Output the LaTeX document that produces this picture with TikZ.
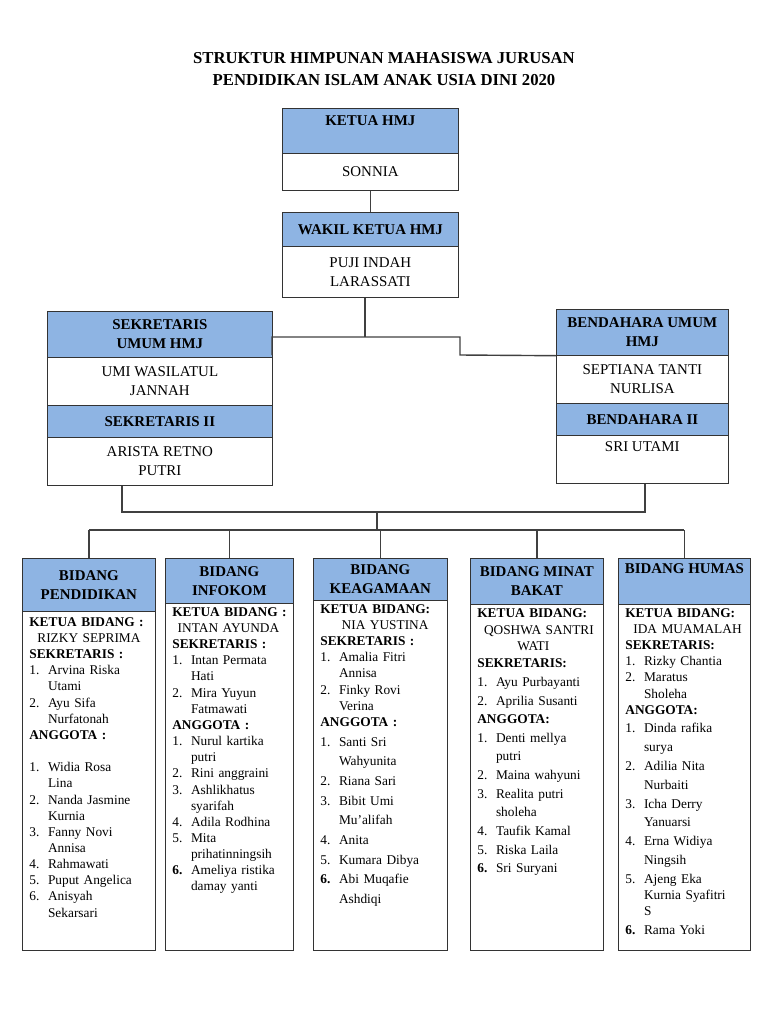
\documentclass[tikz,border=0pt]{standalone}
\usepackage{fontspec}
\setmainfont{Liberation Serif}
\usepackage{tikz}
\usetikzlibrary{positioning}
\definecolor{headblue}{HTML}{8EB4E3}
\newcommand{\itm}[2]{\makebox[1.4em][l]{#1}#2}
\newcommand{\ind}[1]{\hspace*{1.4em}#1}

\begin{document}
\begin{tikzpicture}[
        x=0.02cm, y=-0.02cm,
        head_style/.style={draw=black!80, fill=headblue, font=\fontsize{8.5}{11}\selectfont\bfseries, align=center, inner sep=2pt, anchor=north west},
        body_style/.style={draw=black!80, fill=white, font=\fontsize{8.5}{11}\selectfont, align=center, inner sep=2pt, anchor=north west},
        list_style/.style={font=\fontsize{7.6}{#1}\selectfont, align=left, anchor=north west, inner sep=0pt, text width=2.5cm},
        link_style/.style={draw=black!75, thick}
    ]
        \useasboundingbox (0,0) rectangle (768,1024);
        % Title
        \node[font=\fontsize{9.5}{12.5}\selectfont\bfseries, align=center] (title) at (384,69)
            {STRUKTUR HIMPUNAN MAHASISWA JURUSAN\\PENDIDIKAN ISLAM ANAK USIA DINI 2020};

        % Ketua and wakil
        \node[head_style, minimum width=176*0.02cm, minimum height=45*0.02cm] (ketua) at (282,108) {\raisebox{-4pt}{KETUA HMJ}\\\strut};
        \node[body_style, minimum width=176*0.02cm, minimum height=37*0.02cm] (sonnia) at (282,153) {SONNIA};
        \node[head_style, minimum width=176*0.02cm, minimum height=34*0.02cm] (wakil) at (282,212) {WAKIL KETUA HMJ};
        \node[body_style, minimum width=176*0.02cm, minimum height=51*0.02cm] (puji) at (282,246) {PUJI INDAH\\LARASSATI};

        % Sekretaris
        \node[head_style, minimum width=225*0.02cm, minimum height=46*0.02cm] (sekum) at (47,311) {SEKRETARIS\\UMUM HMJ};
        \node[body_style, minimum width=225*0.02cm, minimum height=48*0.02cm] (umi) at (47,357) {UMI WASILATUL\\JANNAH};
        \node[head_style, minimum width=225*0.02cm, minimum height=32*0.02cm] (sekdua) at (47,405) {SEKRETARIS II};
        \node[body_style, minimum width=225*0.02cm, minimum height=48*0.02cm] (arista) at (47,437) {ARISTA RETNO\\PUTRI};

        % Bendahara
        \node[head_style, minimum width=172*0.02cm, minimum height=46*0.02cm] (bendum) at (556,309) {BENDAHARA UMUM\\HMJ};
        \node[body_style, minimum width=172*0.02cm, minimum height=48*0.02cm] (septi) at (556,355) {SEPTIANA TANTI\\NURLISA};
        \node[head_style, minimum width=172*0.02cm, minimum height=32*0.02cm] (benddua) at (556,403) {BENDAHARA II};
        \node[body_style, minimum width=172*0.02cm, minimum height=48*0.02cm] (sri) at (556,435) {SRI UTAMI\\\strut};

        % Connectors top
        \draw[link_style] (sonnia.south) -- (wakil.north);
        \coordinate (jl) at (272,337);
        \coordinate (jr) at (460,337);
        \coordinate (jm) at (365,337);
        \draw[link_style] (puji.south -| jm) -- (jm);
        \draw[link_style] (272,355) -- (jl) -- (jr) -- (460,355) -- (bendum.south west);
        % Connectors middle
        \coordinate (ml) at (122,512);
        \coordinate (mr) at (645,512);
        \draw[link_style] (arista.south -| ml) -- (ml) -- (mr) -- (sri.south -| mr);
        \draw[link_style] (377,512) -- (377,530);

        % Bidang boxes
        \foreach \name/\x/\w/\hb/\txt in {
            pend/22/133/53/{BIDANG\\PENDIDIKAN},
            info/165/128/45/{BIDANG\\INFOKOM},
            agama/313/134/42/{BIDANG\\KEAGAMAAN},
            minat/470/133/46/{BIDANG MINAT\\BAKAT},
            humas/618/132/46/{BIDANG HUMAS\\\strut}} {
            \node[body_style, minimum width=\w*0.02cm, minimum height=392*0.02cm] (\name body) at (\x,558) {};
            \node[head_style, minimum width=\w*0.02cm, minimum height=\hb*0.02cm] (\name) at (\x,558) {\txt};
            \draw[link_style] (\name.north) -- ++(0,-28);
        }
        \draw[link_style] (pend.north) ++(0,-28) -- (684,530);

        % Lists
        \node[list_style=9.2pt] at (29,617) {\textbf{KETUA BIDANG :}\\
            \hspace*{0.6em}RIZKY SEPRIMA\\
            \textbf{SEKRETARIS :}\\
            \itm{1.}{Arvina Riska}\\\ind{Utami}\\
            \itm{2.}{Ayu Sifa}\\\ind{Nurfatonah}\\
            \textbf{ANGGOTA :}\\[9.2pt]
            \itm{1.}{Widia Rosa}\\\ind{Lina}\\
            \itm{2.}{Nanda Jasmine}\\\ind{Kurnia}\\
            \itm{3.}{Fanny Novi}\\\ind{Annisa}\\
            \itm{4.}{Rahmawati}\\
            \itm{5.}{Puput Angelica}\\
            \itm{6.}{Anisyah}\\\ind{Sekarsari}};
        \node[list_style=9.2pt] at (172,607) {\textbf{KETUA BIDANG :}\\
            \hspace*{0.4em}INTAN AYUNDA\\
            \textbf{SEKRETARIS :}\\
            \itm{1.}{Intan Permata}\\\ind{Hati}\\
            \itm{2.}{Mira Yuyun}\\\ind{Fatmawati}\\
            \textbf{ANGGOTA :}\\
            \itm{1.}{Nurul kartika}\\\ind{putri}\\
            \itm{2.}{Rini anggraini}\\
            \itm{3.}{Ashlikhatus}\\\ind{syarifah}\\
            \itm{4.}{Adila Rodhina}\\
            \itm{5.}{Mita}\\\ind{prihatinningsih}\\
            \itm{\textbf{6.}}{Ameliya ristika}\\\ind{damay yanti}};
        \node[list_style=9.2pt] at (320,604) {\textbf{KETUA BIDANG:}\\
            \hspace*{1.6em}NIA YUSTINA\\
            \textbf{SEKRETARIS :}\\
            \itm{1.}{Amalia Fitri}\\\ind{Annisa}\\
            \itm{2.}{Finky Rovi}\\\ind{Verina}\\
            \textbf{ANGGOTA :}\\[2pt]
            \itm{1.}{Santi Sri}\\[2pt]\ind{Wahyunita}\\[2pt]
            \itm{2.}{Riana Sari}\\[2pt]
            \itm{3.}{Bibit Umi}\\[2pt]\ind{Mu'alifah}\\[2pt]
            \itm{4.}{Anita}\\[2pt]
            \itm{5.}{Kumara Dibya}\\[2pt]
            \itm{\textbf{6.}}{Abi Muqafie}\\[2pt]\ind{Ashdiqi}};
        \node[list_style=9.6pt] at (477,608) {\textbf{KETUA BIDANG:}\\
            \hspace*{0.5em}QOSHWA SANTRI\\
            \hspace*{3em}WATI\\
            \textbf{SEKRETARIS:}\\[1pt]
            \itm{1.}{Ayu Purbayanti}\\[1pt]
            \itm{2.}{Aprilia Susanti}\\[1pt]
            \textbf{ANGGOTA:}\\[1pt]
            \itm{1.}{Denti mellya}\\[1pt]\ind{putri}\\[1pt]
            \itm{2.}{Maina wahyuni}\\[1pt]
            \itm{3.}{Realita putri}\\[1pt]\ind{sholeha}\\[1pt]
            \itm{4.}{Taufik Kamal}\\[1pt]
            \itm{5.}{Riska Laila}\\[1pt]
            \itm{\textbf{6.}}{Sri Suryani}};
        \node[list_style=9.2pt] at (625,608) {\textbf{KETUA BIDANG:}\\
            \hspace*{0.6em}IDA MUAMALAH\\
            \textbf{SEKRETARIS:}\\
            \itm{1.}{Rizky Chantia}\\
            \itm{2.}{Maratus}\\\ind{Sholeha}\\
            \textbf{ANGGOTA:}\\[1.5pt]
            \itm{1.}{Dinda rafika}\\[1.5pt]\ind{surya}\\[1.5pt]
            \itm{2.}{Adilia Nita}\\[1.5pt]\ind{Nurbaiti}\\[1.5pt]
            \itm{3.}{Icha Derry}\\[1.5pt]\ind{Yanuarsi}\\[1.5pt]
            \itm{4.}{Erna Widiya}\\[1.5pt]\ind{Ningsih}\\[1.5pt]
            \itm{5.}{Ajeng Eka}\\\ind{Kurnia Syafitri}\\\ind{S}\\[1.5pt]
            \itm{\textbf{6.}}{Rama Yoki}};
    \end{tikzpicture}
\end{document}
